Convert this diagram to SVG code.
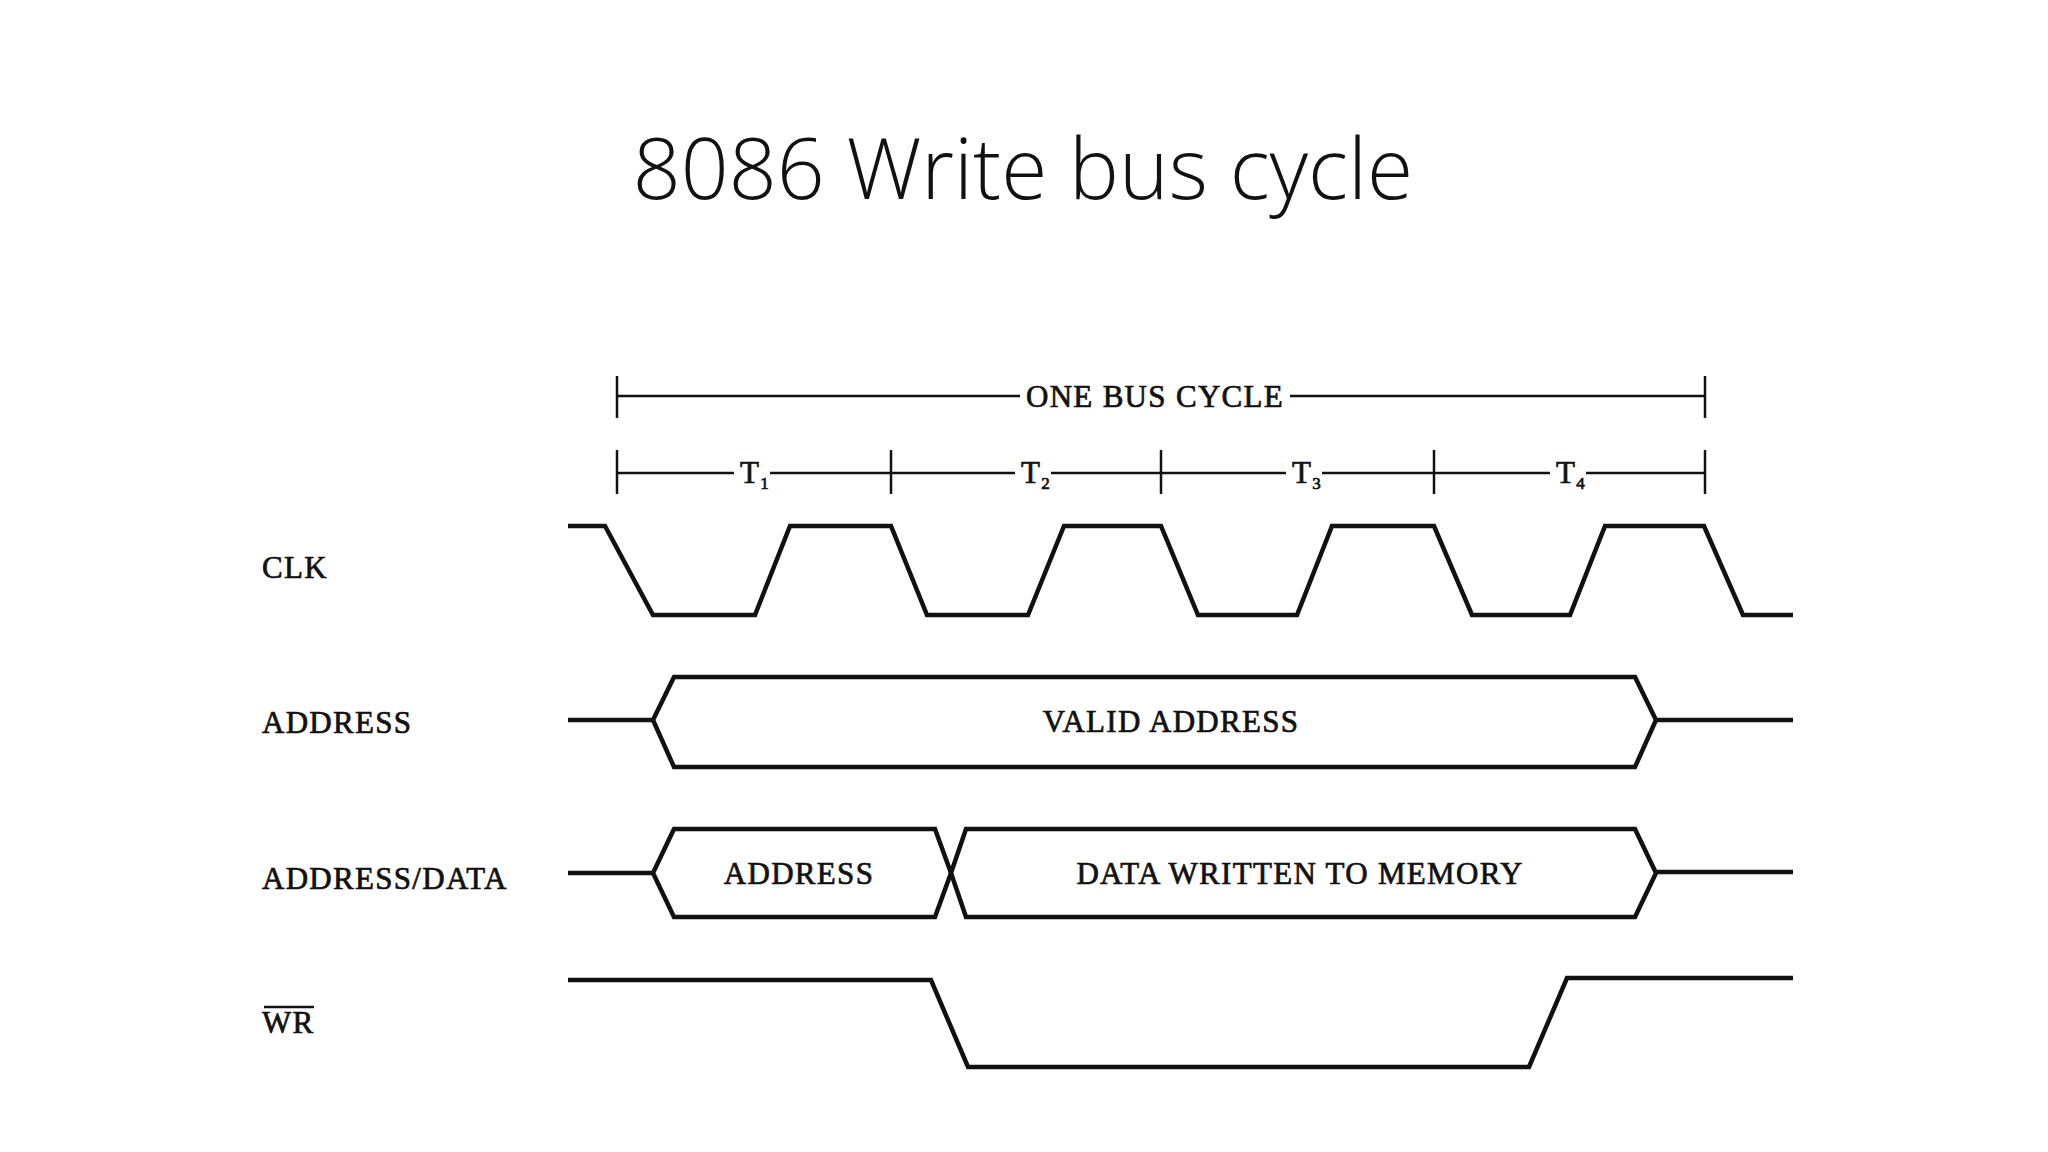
<svg xmlns="http://www.w3.org/2000/svg" width="2048" height="1152" viewBox="0 0 2048 1152">
<style>
.w{fill:none;stroke:#111;stroke-width:4.5;stroke-linejoin:miter}
.t{stroke:#111;stroke-width:2.5}
.l{font-family:"Liberation Serif",serif;font-size:31px;letter-spacing:1.3px;fill:#111;stroke:#111;stroke-width:0.7}
.c{text-anchor:middle}
</style>
<rect width="2048" height="1152" fill="#fff"/>
<text x="1023" y="199" text-anchor="middle" font-family="Open Sans, sans-serif" font-weight="300" font-size="84" fill="#111">8086 Write bus cycle</text>
<g id="scale">
<line class="t" x1="617" y1="396" x2="1020" y2="396"/>
<line class="t" x1="1290" y1="396" x2="1705" y2="396"/>
<line class="t" x1="617" y1="376" x2="617" y2="418"/>
<line class="t" x1="1705" y1="376" x2="1705" y2="418"/>
<text class="l c" x="1155" y="407">ONE BUS CYCLE</text>
<line class="t" x1="617" y1="473" x2="734" y2="473"/><line class="t" x1="770" y1="473" x2="1015" y2="473"/>
<line class="t" x1="1051" y1="473" x2="1286" y2="473"/><line class="t" x1="1322" y1="473" x2="1550" y2="473"/>
<line class="t" x1="1586" y1="473" x2="1705" y2="473"/>
<line class="t" x1="617" y1="450" x2="617" y2="494"/><line class="t" x1="891" y1="450" x2="891" y2="494"/>
<line class="t" x1="1161" y1="450" x2="1161" y2="494"/><line class="t" x1="1434" y1="450" x2="1434" y2="494"/>
<line class="t" x1="1705" y1="450" x2="1705" y2="494"/>
<text class="l" x="740" y="483">T<tspan font-size="17" dy="6">1</tspan></text>
<text class="l" x="1021" y="483">T<tspan font-size="17" dy="6">2</tspan></text>
<text class="l" x="1292" y="483">T<tspan font-size="17" dy="6">3</tspan></text>
<text class="l" x="1556" y="483">T<tspan font-size="17" dy="6">4</tspan></text>
</g>
<g id="labels">
<text class="l" x="262" y="578">CLK</text>
<text class="l" x="262" y="733">ADDRESS</text>
<text class="l" x="262" y="889">ADDRESS/DATA</text>
<text class="l" x="262" y="1033">WR</text>
<line class="t" x1="264" y1="1007" x2="314" y2="1007" stroke-width="2"/>
</g>
<g id="signals">
<polyline class="w" points="568,526 605,526 653,615 755,615 790,526 891,526 927,615 1028,615 1064,526 1161,526 1198,615 1297,615 1332,526 1434,526 1472,615 1570,615 1605,526 1704,526 1743,615 1793,615"/>
<polyline class="w" points="568,720 653,720"/>
<polygon class="w" points="653,720 674,677 1635,677 1656,720 1635,767 674,767"/>
<polyline class="w" points="1656,720 1793,720"/>
<text class="l c" x="1171" y="732">VALID ADDRESS</text>
<polyline class="w" points="568,873 653,873"/>
<polygon class="w" points="653,873 674,829 935,829 951,873 935,917 674,917"/>
<polygon class="w" points="951,873 966,829 1635,829 1656,873 1635,917 966,917"/>
<polyline class="w" points="1656,872 1793,872"/>
<text class="l c" x="799" y="884">ADDRESS</text>
<text class="l c" x="1300" y="884">DATA WRITTEN TO MEMORY</text>
<polyline class="w" points="568,980 931,980 968,1067 1529,1067 1567,978 1793,978"/>
</g>
</svg>
